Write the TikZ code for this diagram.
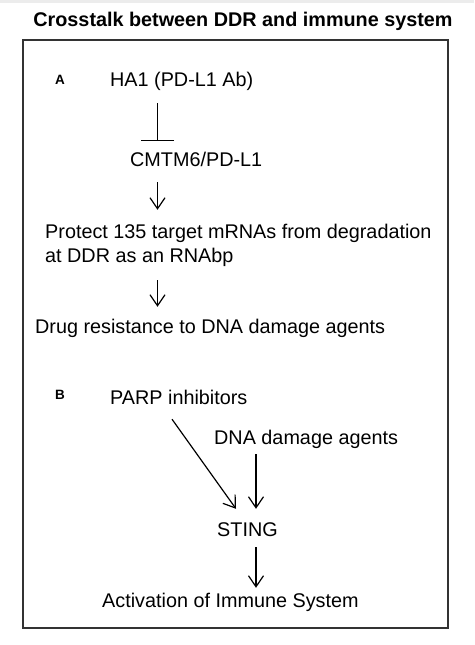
\documentclass[tikz,border=0pt]{standalone}
\usepackage{fontspec}
\setmainfont{Liberation Sans}
\usetikzlibrary{arrows.meta,positioning}

\begin{document}
\begin{tikzpicture}[x=1pt, y=-1pt, >={Straight Barb[length=11pt,width=15pt]},
  lbl/.style={anchor=base west, inner sep=0pt, text height=14pt, text depth=4pt, font=\fontsize{19.8}{24}\selectfont},
  tag/.style={anchor=base west, inner sep=0pt, font=\fontsize{13.5}{15}\selectfont\bfseries},
  arr/.style={->, line width=1.2pt},
  inhib/.style={-{Bar[width=33pt,line width=1.2pt]}, line width=1.2pt}
]
\useasboundingbox (0,0) rectangle (474,645);
\fill[gray!15] (0,0) rectangle (474,3);
\draw[black!80, line width=1.3pt] (23,40) rectangle (448,628);

\node[anchor=base, inner sep=0pt, font=\fontsize{19.8}{22}\selectfont\bfseries] (title) at (243,27) {Crosstalk between DDR and immune system};

% panel A
\node[tag] (tagA) at (55,84) {A};
\node[lbl] (ha1) at (110,86) {HA1 (PD-L1 Ab)};
\node[lbl] (cmtm) at (130,166) {CMTM6/PD-L1};
\node[lbl] (prot) at (45,238) {Protect 135 target mRNAs from degradation};
\node[lbl] (prot2) at (45,262) {at DDR as an RNAbp};
\node[lbl] (drug) at (35,333) {Drug resistance to DNA damage agents};

\coordinate (colA) at (157.5,0);
\draw[inhib, shorten <=13pt, shorten >=11pt] (ha1.south -| colA) -- (cmtm.north -| colA);
\draw[arr, shorten <=12pt, shorten >=14pt] (cmtm.south -| colA) -- (prot.north -| colA);
\draw[arr, shorten <=14pt, shorten >=12pt] (prot2.south -| colA) -- (drug.north -| colA);

% panel B
\node[tag] (tagB) at (55,399) {B};
\node[lbl] (parp) at (110,404) {PARP inhibitors};
\node[lbl] (dna) at (214,444) {DNA damage agents};
\node[lbl] (sting) at (217,536) {STING};
\node[lbl] (act) at (102,607) {Activation of Immune System};

\coordinate (colB) at (256,0);
\draw[arr] ([xshift=62pt, yshift=-11pt]parp.south west) -- ([xshift=19pt, yshift=13pt]sting.north west);
\draw[arr, shorten <=6pt, shorten >=13pt] (dna.south -| colB) -- (sting.north -| colB);
\draw[arr, shorten <=7pt, shorten >=5pt] (sting.south -| colB) -- (act.north -| colB);
\end{tikzpicture}
\end{document}
